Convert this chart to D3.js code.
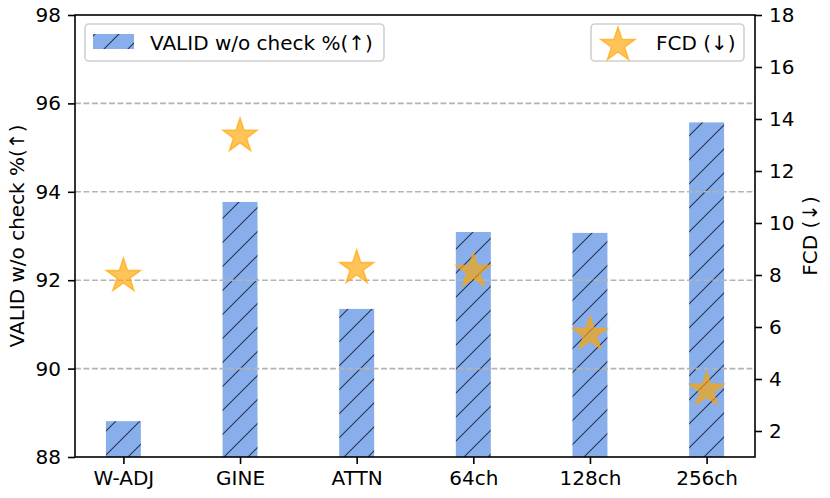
<!DOCTYPE html>
<html>
<head>
<meta charset="utf-8">
<script src="https://cdn.jsdelivr.net/npm/d3@7"></script>
<style>
  body { margin: 0; background: #fff; }
  text { font-family: "DejaVu Sans", sans-serif; fill: #000; }
</style>
</head>
<body>
<svg id="chart" width="830" height="498"></svg>
<script>
const categories = ["W-ADJ", "GINE", "ATTN", "64ch", "128ch", "256ch"];
const validValues = [88.81, 93.77, 91.35, 93.09, 93.07, 95.57];
const fcdValues = [7.96, 13.35, 8.27, 8.15, 5.73, 3.58];
const leftTicks = [88, 90, 92, 94, 96, 98];
const rightTicks = [2, 4, 6, 8, 10, 12, 14, 16, 18];

const W = 830, H = 498;
const M = { left: 75, right: 755, top: 15, bottom: 457 };
const FONT = 20;
const BAR_W = 0.3;
const BAR_COR = "#88afec";
const STAR_COR = "#ffa500";
const HATCH_COR = "#26334d";

const svg = d3.select("#chart");
const g = svg.append("g");

const x = d3.scaleLinear().domain([-0.415, 5.415]).range([M.left, M.right]);
const yL = d3.scaleLinear().domain([88, 98]).range([M.bottom, M.top]);
const yR = d3.scaleLinear().domain([1, 18]).range([M.bottom, M.top]);

// hatch pattern
const defs = svg.append("defs");
const pat = defs.append("pattern")
    .attr("id", "hatch")
    .attr("patternUnits", "userSpaceOnUse")
    .attr("width", 24)
    .attr("height", 24)
    .attr("x", 9);
pat.append("rect").attr("width", 24).attr("height", 24).attr("fill", BAR_COR);
pat.append("path")
    .attr("d", "M-6,6 L6,-6 M0,24 L24,0 M18,30 L30,18")
    .attr("stroke", HATCH_COR)
    .attr("stroke-width", 1.1);

// clip for plot area
defs.append("clipPath").attr("id", "plotclip")
    .append("rect")
    .attr("x", M.left).attr("y", M.top)
    .attr("width", M.right - M.left).attr("height", M.bottom - M.top);

// bars
g.append("g").attr("clip-path", "url(#plotclip)")
    .selectAll("rect")
    .data(validValues)
    .join("rect")
    .attr("x", (d, i) => x(i - BAR_W / 2))
    .attr("width", x(BAR_W) - x(0))
    .attr("y", d => yL(d))
    .attr("height", d => yL(88) - yL(d))
    .attr("fill", "url(#hatch)");

// grid
g.append("g")
    .selectAll("line")
    .data(leftTicks.filter(t => t > 88 && t < 98))
    .join("line")
    .attr("x1", M.left)
    .attr("x2", M.right)
    .attr("y1", d => yL(d))
    .attr("y2", d => yL(d))
    .attr("stroke", "#b4b4b4")
    .attr("stroke-width", 1.6)
    .attr("stroke-dasharray", "5.9,2.6");

// axes
function styleAxis(sel) {
    sel.select(".domain").remove();
    sel.selectAll(".tick line").attr("stroke", "#000").attr("stroke-width", 1.6);
    sel.selectAll(".tick text")
        .attr("font-size", FONT)
        .attr("font-family", "DejaVu Sans")
        .attr("fill", "#000");
}

const xAxis = g.append("g")
    .attr("transform", `translate(0,${M.bottom})`)
    .call(d3.axisBottom(x).tickValues(d3.range(categories.length))
        .tickFormat(i => categories[i]).tickSize(7).tickPadding(7));
styleAxis(xAxis);

const leftAxis = g.append("g")
    .attr("transform", `translate(${M.left},0)`)
    .call(d3.axisLeft(yL).tickValues(leftTicks).tickFormat(d3.format("d"))
        .tickSize(7).tickPadding(7));
styleAxis(leftAxis);

const rightAxis = g.append("g")
    .attr("transform", `translate(${M.right},0)`)
    .call(d3.axisRight(yR).tickValues(rightTicks).tickFormat(d3.format("d"))
        .tickSize(7).tickPadding(7));
styleAxis(rightAxis);

// spines
g.append("rect")
    .attr("x", M.left).attr("y", M.top)
    .attr("width", M.right - M.left).attr("height", M.bottom - M.top)
    .attr("fill", "none")
    .attr("stroke", "#000")
    .attr("stroke-width", 1.6);

// axis labels
g.append("text")
    .attr("transform", `translate(24,${(M.top + M.bottom) / 2}) rotate(-90)`)
    .attr("text-anchor", "middle")
    .attr("font-size", FONT)
    .text("VALID w/o check %(\u2191)");

g.append("text")
    .attr("transform", `translate(817,${(M.top + M.bottom) / 2}) rotate(-90)`)
    .attr("text-anchor", "middle")
    .attr("font-size", FONT)
    .text("FCD (\u2193)");

// star path
function starPath(cx, cy, r) {
    const ri = r * 0.381966;
    let pts = [];
    for (let k = 0; k < 10; k++) {
        const rr = k % 2 === 0 ? r : ri;
        const a = -Math.PI / 2 + k * Math.PI / 5;
        pts.push([cx + rr * Math.cos(a), cy + rr * Math.sin(a)]);
    }
    return "M" + pts.map(p => p.join(",")).join("L") + "Z";
}

// legend 1 (left axis)
const lg1 = g.append("g");
lg1.append("rect")
    .attr("x", 85).attr("y", 24).attr("width", 299).attr("height", 37)
    .attr("rx", 4).attr("ry", 4)
    .attr("fill", "#fff").attr("fill-opacity", 0.8)
    .attr("stroke", "#d0d0d0").attr("stroke-width", 1.6);
lg1.append("rect")
    .attr("x", 93).attr("y", 34).attr("width", 41).attr("height", 15)
    .attr("fill", "url(#hatch)");
lg1.append("text")
    .attr("x", 150).attr("y", 42.5)
    .attr("dominant-baseline", "central")
    .attr("font-size", FONT)
    .text("VALID w/o check %(\u2191)");

// stars (right axis)
g.append("g")
    .selectAll("path")
    .data(fcdValues)
    .join("path")
    .attr("d", (d, i) => starPath(x(i), yR(d), 18))
    .attr("fill", STAR_COR)
    .attr("fill-opacity", 0.65)
    .attr("stroke", STAR_COR)
    .attr("stroke-opacity", 0.65)
    .attr("stroke-width", 1.5);

// legend 2 (right axis)
const lg2 = g.append("g");
lg2.append("rect")
    .attr("x", 591).attr("y", 24).attr("width", 153).attr("height", 37)
    .attr("rx", 4).attr("ry", 4)
    .attr("fill", "#fff").attr("fill-opacity", 0.8)
    .attr("stroke", "#d0d0d0").attr("stroke-width", 1.6);
lg2.append("path")
    .attr("d", starPath(618, 45, 18))
    .attr("fill", STAR_COR)
    .attr("fill-opacity", 0.65)
    .attr("stroke", STAR_COR)
    .attr("stroke-opacity", 0.65)
    .attr("stroke-width", 1.5);
lg2.append("text")
    .attr("x", 656).attr("y", 42.5)
    .attr("dominant-baseline", "central")
    .attr("font-size", FONT)
    .text("FCD (\u2193)");
</script>
</body>
</html>
